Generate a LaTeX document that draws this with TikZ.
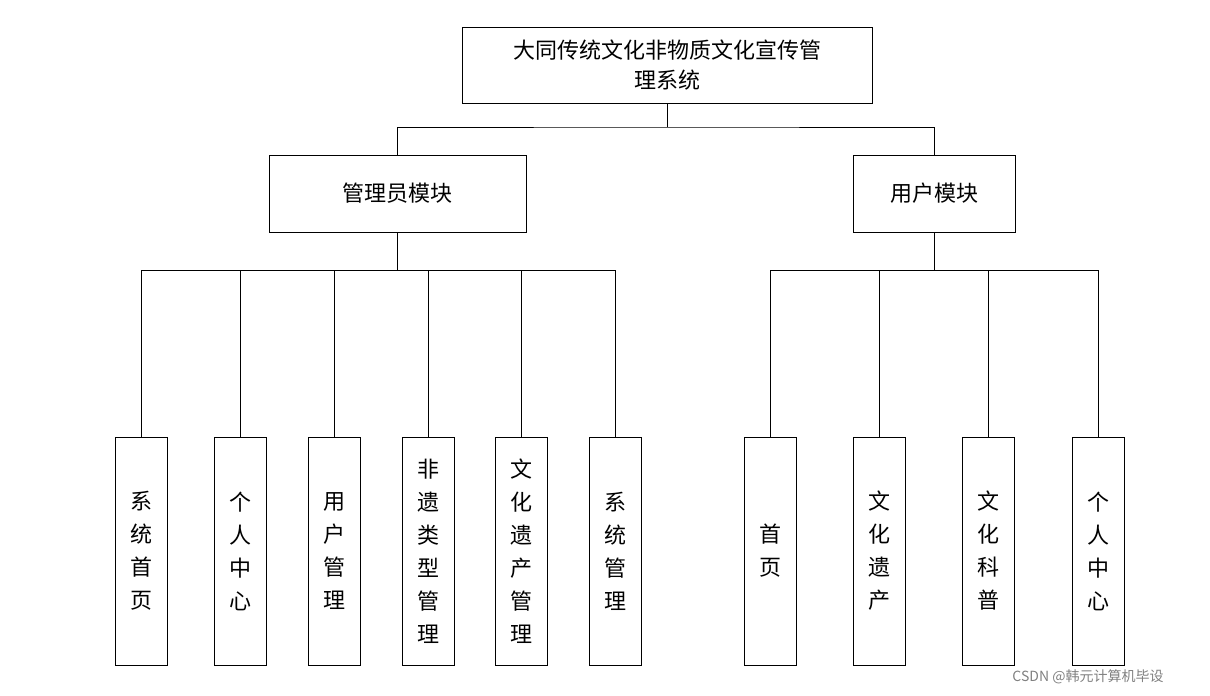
\documentclass[tikz,border=0pt]{standalone}
\usepackage{fontspec}
\newfontfamily\cjk{Noto Sans CJK SC}
\usetikzlibrary{positioning}
\tikzset{
  box/.style={draw, line width=0.8pt, inner sep=0pt, font=\cjk\fontsize{22}{30}\selectfont, align=center},
  leaf/.style={box, minimum width=52pt, minimum height=228pt, font=\cjk\fontsize{22}{33}\selectfont},
  link/.style={line width=0.8pt}
}
\begin{document}
\begin{tikzpicture}[x=1pt,y=-1pt]
\useasboundingbox (0,0) rectangle (1210,696);

% top levels
\node[box, minimum width=410pt, minimum height=76pt] (root) at (667,65) {大同传统文化非物质文化宣传管\\理系统};
\node[box, minimum width=257pt, minimum height=77pt] (admin) at (397.5,193.5) {管理员模块};
\node[box, minimum width=162pt, minimum height=77pt] (user) at (934,193.5) {用户模块};

\coordinate (rj) at (667,127);
\draw[link] (root.south) -- (rj);
\draw[link] (admin.north) |- (rj) -| (user.north);

% admin leaves
\coordinate (aj) at (397.5,270);
\draw[link] (admin.south) -- (aj);
\foreach \i/\x/\t in {1/141/系\\统\\首\\页, 2/240/个\\人\\中\\心, 3/334/用\\户\\管\\理,
  4/428/非\\遗\\类\\型\\管\\理, 5/521/文\\化\\遗\\产\\管\\理, 6/615/系\\统\\管\\理}{
  \node[leaf] (a\i) at (\x,551) {\t};
  \draw[link] (a\i.north) |- (aj);
}

% user leaves
\coordinate (uj) at (934,270);
\draw[link] (user.south) -- (uj);
\foreach \i/\x/\t in {1/770/首\\页, 2/879/文\\化\\遗\\产, 3/988/文\\化\\科\\普, 4/1098/个\\人\\中\\心}{
  \node[leaf] (u\i) at (\x,551) {\t};
  \draw[link] (u\i.north) |- (uj);
}

\node[text=gray, font=\cjk\fontsize{14}{16}\selectfont] (mark) at (1088,677) {CSDN @韩元计算机毕设};
\end{tikzpicture}
\end{document}
